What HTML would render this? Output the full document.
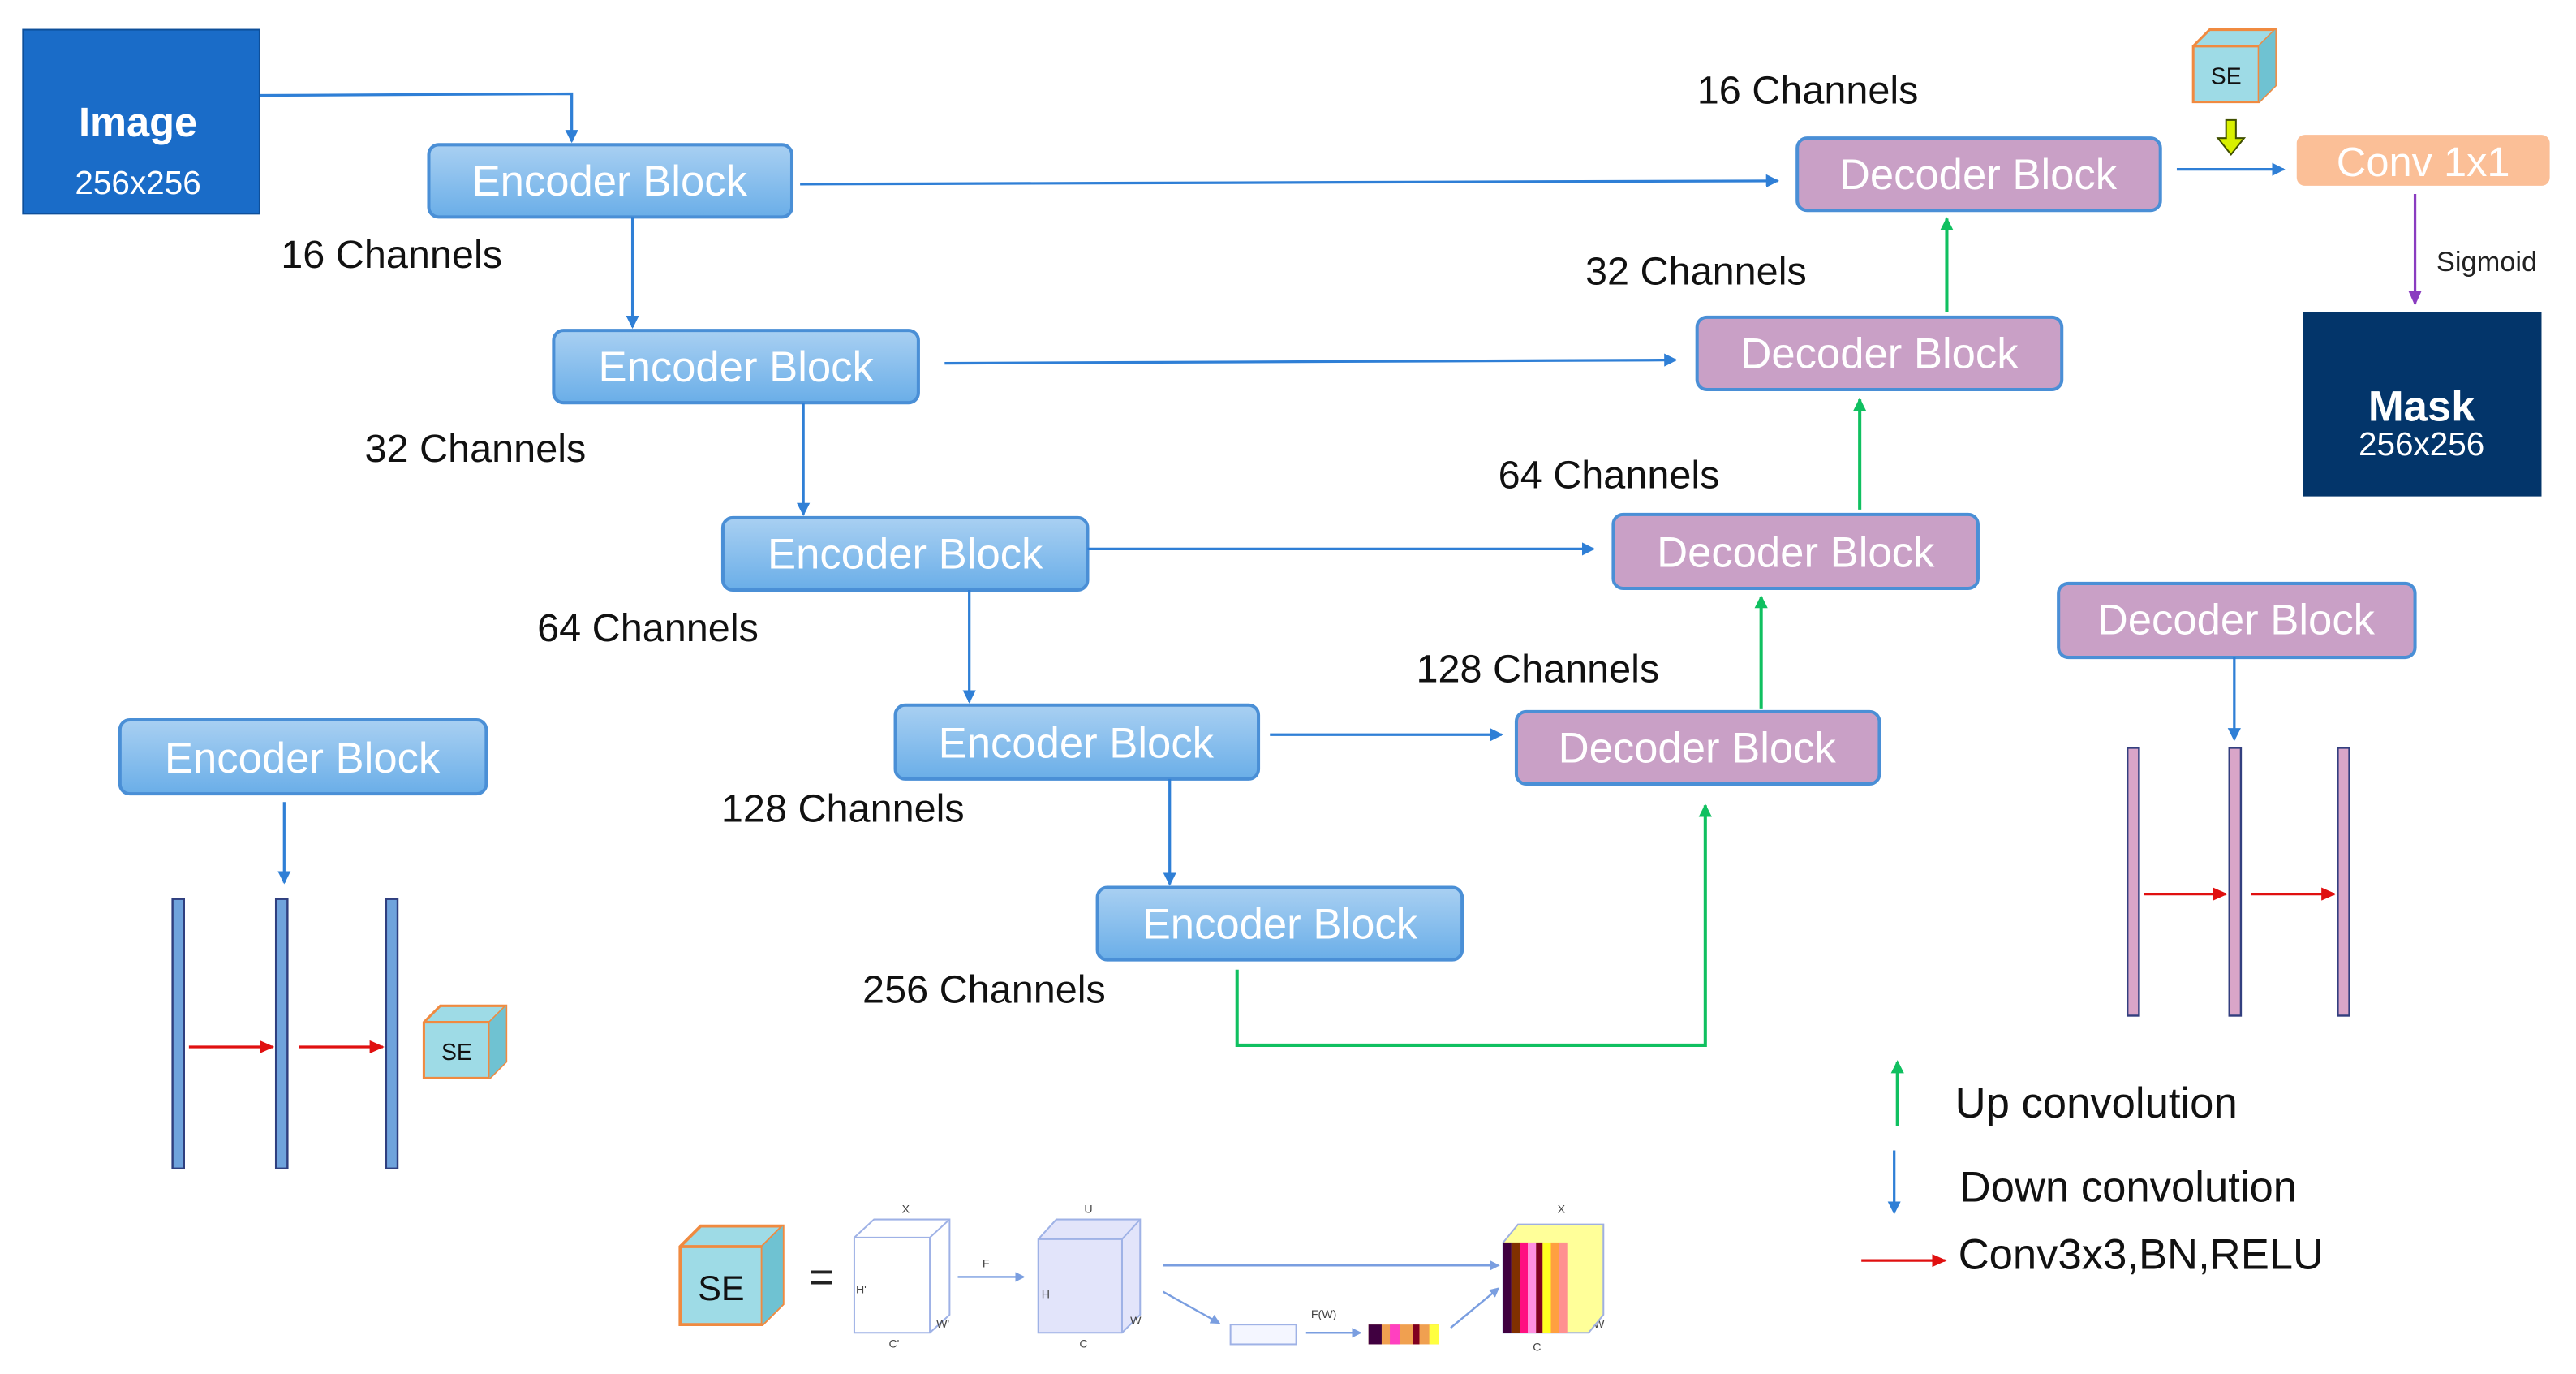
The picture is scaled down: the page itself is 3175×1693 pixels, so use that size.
<!DOCTYPE html>
<html><head><meta charset="utf-8"><style>
html,body{margin:0;padding:0;background:#fff;}
svg{display:block;}
text{font-family:"Liberation Sans",sans-serif;}
</style></head><body>
<svg width="3175" height="1693" viewBox="0 0 1568 836" xmlns="http://www.w3.org/2000/svg">
<defs>
<linearGradient id="eg" x1="0" y1="0" x2="0" y2="1"><stop offset="0" stop-color="#a9d0f2"/><stop offset="1" stop-color="#6aaee8"/></linearGradient>
<marker id="ab" markerWidth="8" markerHeight="8" refX="7" refY="4" orient="auto" markerUnits="userSpaceOnUse"><path d="M0,0 L8,4 L0,8z" fill="#2f7fd6"/></marker>
<marker id="ag" markerWidth="8" markerHeight="8" refX="7" refY="4" orient="auto" markerUnits="userSpaceOnUse"><path d="M0,0 L8,4 L0,8z" fill="#10c060"/></marker>
<marker id="ar" markerWidth="9" markerHeight="8" refX="8" refY="4" orient="auto" markerUnits="userSpaceOnUse"><path d="M0,0 L9,4 L0,8z" fill="#e01010"/></marker>
<marker id="ap" markerWidth="9" markerHeight="8" refX="8" refY="4" orient="auto" markerUnits="userSpaceOnUse"><path d="M0,0 L9,4 L0,8z" fill="#8a3cc0"/></marker>
<marker id="al" markerWidth="6" markerHeight="6" refX="5" refY="3" orient="auto" markerUnits="userSpaceOnUse"><path d="M0,0 L6,3 L0,6z" fill="#7a9ee0"/></marker>
<g id="cube">
<path d="M0,10 L10,0 L50,0 L50,34 L40,44 L0,44z" fill="#9edbe6" stroke="#f08a40" stroke-width="1.5"/>
<path d="M0,10 L40,10 L50,0 M40,10 L40,44" fill="none" stroke="#f08a40" stroke-width="1.5"/>
<path d="M40,10 L50,0 L50,34 L40,44z" fill="#6fc2d2"/>
<text x="20" y="33" font-size="14" text-anchor="middle" fill="#111">SE</text>
</g>
</defs>

<rect x="14" y="18" width="144" height="112" fill="#1a6cc8" stroke="#0e4f9a"/>
<text x="84" y="83" font-size="25" fill="#fff" text-anchor="middle" font-weight="bold">Image</text>
<text x="84" y="118" font-size="20" fill="#fff" text-anchor="middle">256x256</text>

<g stroke="#4a8fd6" stroke-width="2" fill="url(#eg)">
<rect x="261" y="88" width="221" height="44" rx="6"/>
<rect x="337" y="201" width="222" height="44" rx="6"/>
<rect x="440" y="315" width="222" height="44" rx="6"/>
<rect x="545" y="429" width="221" height="45" rx="6"/>
<rect x="668" y="540" width="222" height="44" rx="6"/>
<rect x="73" y="438" width="223" height="45" rx="6"/>
</g>
<g font-size="26" fill="#fff" text-anchor="middle">
<text x="371" y="119">Encoder Block</text>
<text x="448" y="232">Encoder Block</text>
<text x="551" y="346">Encoder Block</text>
<text x="655" y="461">Encoder Block</text>
<text x="779" y="571">Encoder Block</text>
<text x="184" y="470">Encoder Block</text>
</g>

<g stroke="#4a8fd6" stroke-width="2" fill="#c9a0c6">
<rect x="1094" y="84" width="221" height="44" rx="6"/>
<rect x="1033" y="193" width="222" height="44" rx="6"/>
<rect x="982" y="313" width="222" height="45" rx="6"/>
<rect x="923" y="433" width="221" height="44" rx="6"/>
<rect x="1253" y="355" width="217" height="45" rx="6"/>
</g>
<g font-size="26" fill="#fff" text-anchor="middle">
<text x="1204" y="115">Decoder Block</text>
<text x="1144" y="224">Decoder Block</text>
<text x="1093" y="345">Decoder Block</text>
<text x="1033" y="464">Decoder Block</text>
<text x="1361" y="386">Decoder Block</text>
</g>

<rect x="1398" y="82" width="154" height="31" rx="5" fill="#fbbf97"/>
<text x="1475" y="107" font-size="25" fill="#fff" text-anchor="middle">Conv 1x1</text>
<rect x="1402" y="190" width="145" height="112" fill="#03356a"/>
<text x="1474" y="256" font-size="26" fill="#fff" text-anchor="middle" font-weight="bold">Mask</text>
<text x="1474" y="277" font-size="20" fill="#fff" text-anchor="middle">256x256</text>

<g font-size="24" fill="#111">
<text x="1033" y="63">16 Channels</text>
<text x="171" y="163">16 Channels</text>
<text x="965" y="173">32 Channels</text>
<text x="222" y="281">32 Channels</text>
<text x="912" y="297">64 Channels</text>
<text x="327" y="390">64 Channels</text>
<text x="862" y="415">128 Channels</text>
<text x="439" y="500">128 Channels</text>
<text x="525" y="610">256 Channels</text>
</g>

<g stroke="#2f7fd6" stroke-width="1.6" fill="none" marker-end="url(#ab)">
<path d="M158,58 L348,57 L348,86"/>
<path d="M385,132 L385,199"/>
<path d="M489,245 L489,313"/>
<path d="M590,359 L590,427"/>
<path d="M712,474 L712,538"/>
<path d="M487,112 L1082,110"/>
<path d="M575,221 L1020,219"/>
<path d="M662,334 L970,334"/>
<path d="M773,447 L914,447"/>
<path d="M1325,103 L1390,103"/>
<path d="M173,488 L173,537"/>
<path d="M1360,400 L1360,450"/>
<path d="M1153,700 L1153,738"/>
</g>
<g stroke="#10c060" stroke-width="2" fill="none" marker-end="url(#ag)">
<path d="M1185,190 L1185,133"/>
<path d="M1132,310 L1132,243"/>
<path d="M1072,431 L1072,363"/>
<path d="M753,590 L753,636 L1038,636 L1038,490"/>
<path d="M1155,685 L1155,646"/>
</g>
<path d="M1470,118 L1470,185" stroke="#8a3cc0" stroke-width="1.6" marker-end="url(#ap)"/>
<text x="1483" y="165" font-size="17" fill="#222">Sigmoid</text>

<path d="M1355,73 L1361,73 L1361,84 L1366,84 L1358,94 L1350,84 L1355,84z" fill="#d8f000" stroke="#405000" stroke-width="1"/>
<use href="#cube" x="1335" y="18"/>

<g fill="#6fa3dc" stroke="#2f3f7f" stroke-width="1.2">
<rect x="105" y="547" width="7" height="164"/>
<rect x="168" y="547" width="7" height="164"/>
<rect x="235" y="547" width="7" height="164"/>
</g>
<g stroke="#e01010" stroke-width="1.6" marker-end="url(#ar)">
<path d="M115,637 L166,637"/>
<path d="M182,637 L233,637"/>
<path d="M1305,544 L1355,544"/>
<path d="M1370,544 L1421,544"/>
<path d="M1133,767 L1184,767"/>
</g>
<use href="#cube" x="258" y="612"/>
<g fill="#d9a5c8" stroke="#333f7f" stroke-width="1.2">
<rect x="1295" y="455" width="7" height="163"/>
<rect x="1357" y="455" width="7" height="163"/>
<rect x="1423" y="455" width="7" height="163"/>
</g>

<g font-size="26" fill="#111">
<text x="1190" y="680">Up convolution</text>
<text x="1193" y="731">Down convolution</text>
<text x="1192" y="772">Conv3x3,BN,RELU</text>
</g>

<g transform="translate(414,746) scale(1.25)">
<path d="M0,10 L10,0 L50,0 L50,38 L40,48 L0,48z" fill="#9edbe6" stroke="#f08a40" stroke-width="1.5"/>
<path d="M0,10 L40,10 L50,0 M40,10 L40,48" fill="none" stroke="#f08a40" stroke-width="1.5"/>
<path d="M40,10 L50,0 L50,38 L40,48z" fill="#6fc2d2"/>
<text x="20" y="36" font-size="17" text-anchor="middle" fill="#111">SE</text>
</g>
<text x="500" y="786" font-size="26" fill="#222" text-anchor="middle">=</text>
<g stroke="#9fb2e6" stroke-width="1" fill="#fff">
<path d="M520,753 L532,742 L578,742 L578,800 L566,811 L520,811z"/>
<path d="M520,753 L566,753 L578,742 M566,753 L566,811" fill="none"/>
<path d="M632,754 L643,742 L694,742 L694,800 L683,811 L632,811z" fill="#e2e4fa"/>
<path d="M632,754 L683,754 L694,742 M683,754 L683,811" fill="none"/>
<rect x="749" y="806" width="40" height="12" fill="#f4f6ff"/>
</g>
<g font-size="7" fill="#444">
<text x="549" y="738">X</text><text x="660" y="738">U</text>
<text x="521" y="787">H'</text><text x="570" y="808">W'</text><text x="541" y="820">C'</text>
<text x="634" y="790">H</text><text x="688" y="806">W</text><text x="657" y="820">C</text>
<text x="598" y="771">F</text><text x="798" y="802">F(W)</text>
<text x="948" y="738">X</text><text x="961" y="785">H</text><text x="970" y="808">W</text><text x="933" y="822">C</text>
</g>
<g stroke="#7a9ee0" stroke-width="1.2" fill="none" marker-end="url(#al)">
<path d="M583,777 L623,777"/>
<path d="M708,770 L912,770"/>
<path d="M708,786 L742,805"/>
<path d="M795,811 L828,811"/>
<path d="M883,808 L912,784"/>
</g>
<g>
<rect x="833" y="806" width="43" height="12" fill="#f0a050"/>
<rect x="833" y="806" width="8" height="12" fill="#400040"/><rect x="846" y="806" width="6" height="12" fill="#ff40c0"/><rect x="860" y="806" width="4" height="12" fill="#800020"/><rect x="870" y="806" width="6" height="12" fill="#ffff40"/>
</g>
<g>
<path d="M915,756 L924,745 L976,745 L976,800 L967,811 L915,811z" fill="#ffff99" stroke="#a0b0e0"/>
<rect x="915" y="756" width="5" height="55" fill="#400040"/>
<rect x="920" y="756" width="5" height="55" fill="#803000"/>
<rect x="925" y="756" width="5" height="55" fill="#ff1080"/>
<rect x="930" y="756" width="5" height="55" fill="#ff90e0"/>
<rect x="935" y="756" width="4" height="55" fill="#800020"/>
<rect x="939" y="756" width="5" height="55" fill="#ffff20"/>
<rect x="944" y="756" width="5" height="55" fill="#ffa040"/>
<rect x="949" y="756" width="5" height="55" fill="#ff9090"/>
</g>
</svg>
</body></html>
